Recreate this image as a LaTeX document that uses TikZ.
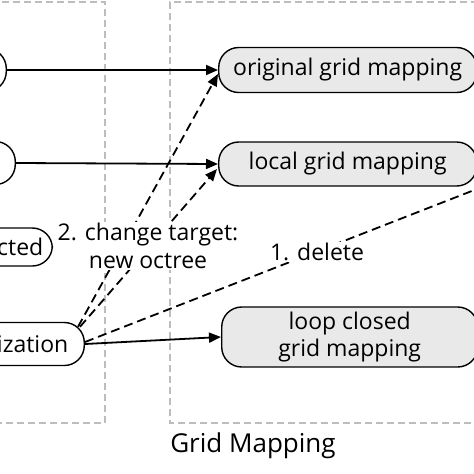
\documentclass[tikz,border=0pt]{standalone}
\usepackage{fontspec}
\setmainfont{Open Sans}
\usetikzlibrary{arrows.meta,calc}
\definecolor{boxfill}{HTML}{E9E9E9}
\definecolor{framegray}{HTML}{BDBDBD}
\begin{document}
\begin{tikzpicture}[x=1pt,y=-1pt,
  every node/.style={font=\fontsize{23}{27.5}\selectfont},
  boxw/.style={draw=black, line width=1.4pt, rounded corners=20pt, fill=white, minimum height=43pt},
  boxg/.style={draw=black, line width=1.4pt, rounded corners=20pt, fill=boxfill, minimum height=44pt, align=center, inner xsep=2pt},
  frame/.style={draw=framegray, line width=1.1pt, dash pattern=on 7pt off 4pt},
  solidarrow/.style={line width=1.8pt, -{Triangle[length=12pt,width=10pt]}},
  dasharrow/.style={line width=1.8pt, dash pattern=on 9pt off 5pt, -{Triangle[length=12pt,width=10pt]}},
  lbl/.style={fill=white, inner sep=1pt, align=center}]
\useasboundingbox (0,0) rectangle (474,474);
\clip (0,0) rectangle (474,474);
% frames
\draw[frame] (-20,2) -- (105,2) -- (105,423) -- (-20,423);
\draw[frame] (500,2) -- (170,2) -- (170,423) -- (500,423);
% left nodes (cropped)
\node[boxw, anchor=east, minimum width=120pt] (a) at (7,70) {};
\node[boxw, anchor=east, minimum width=120pt] (b) at (16,163) {};
\node[boxw, anchor=east, minimum height=38pt, text width=150pt, align=right, inner xsep=9pt] (c) at (53,247) {cted};
\node[boxw, anchor=east, text width=170pt, align=right, inner xsep=16pt] (d) at (85,344) {ization};
% right nodes
\node[boxg, anchor=west, minimum width=258pt, minimum height=45pt] (e) at (218,70) {original grid mapping};
\node[boxg, anchor=west, minimum width=258pt] (f) at (218,164) {local grid mapping};
\node[boxg, anchor=west, minimum width=256pt, minimum height=60pt] (g) at (221,337) {loop closed\\grid mapping};
\coordinate (dx) at (500,180);
% connectors
\draw[solidarrow] (a.east) -- (e.west);
\draw[solidarrow] (b.east) -- (f.west);
\draw[solidarrow] (d.east) -- (g.west);
\draw[dasharrow] ($(d.north east)+(-7,5)$) -- ($(e.west)+(0,4)$);
\draw[dasharrow] ($(d.north east)+(-5,5)$) -- ($(f.west)+(-1,5)$);
\draw[dasharrow] ($(d.east)+(0,-2)$) -- (dx);
% labels
\node[lbl] (l2) at (148,246) {2. change target:\\new octree};
\node[lbl] (l1) at (317,252) {1. delete};
\node[font=\fontsize{26}{30}\selectfont] (t) at (253,446) {Grid Mapping};
\end{tikzpicture}
\end{document}
